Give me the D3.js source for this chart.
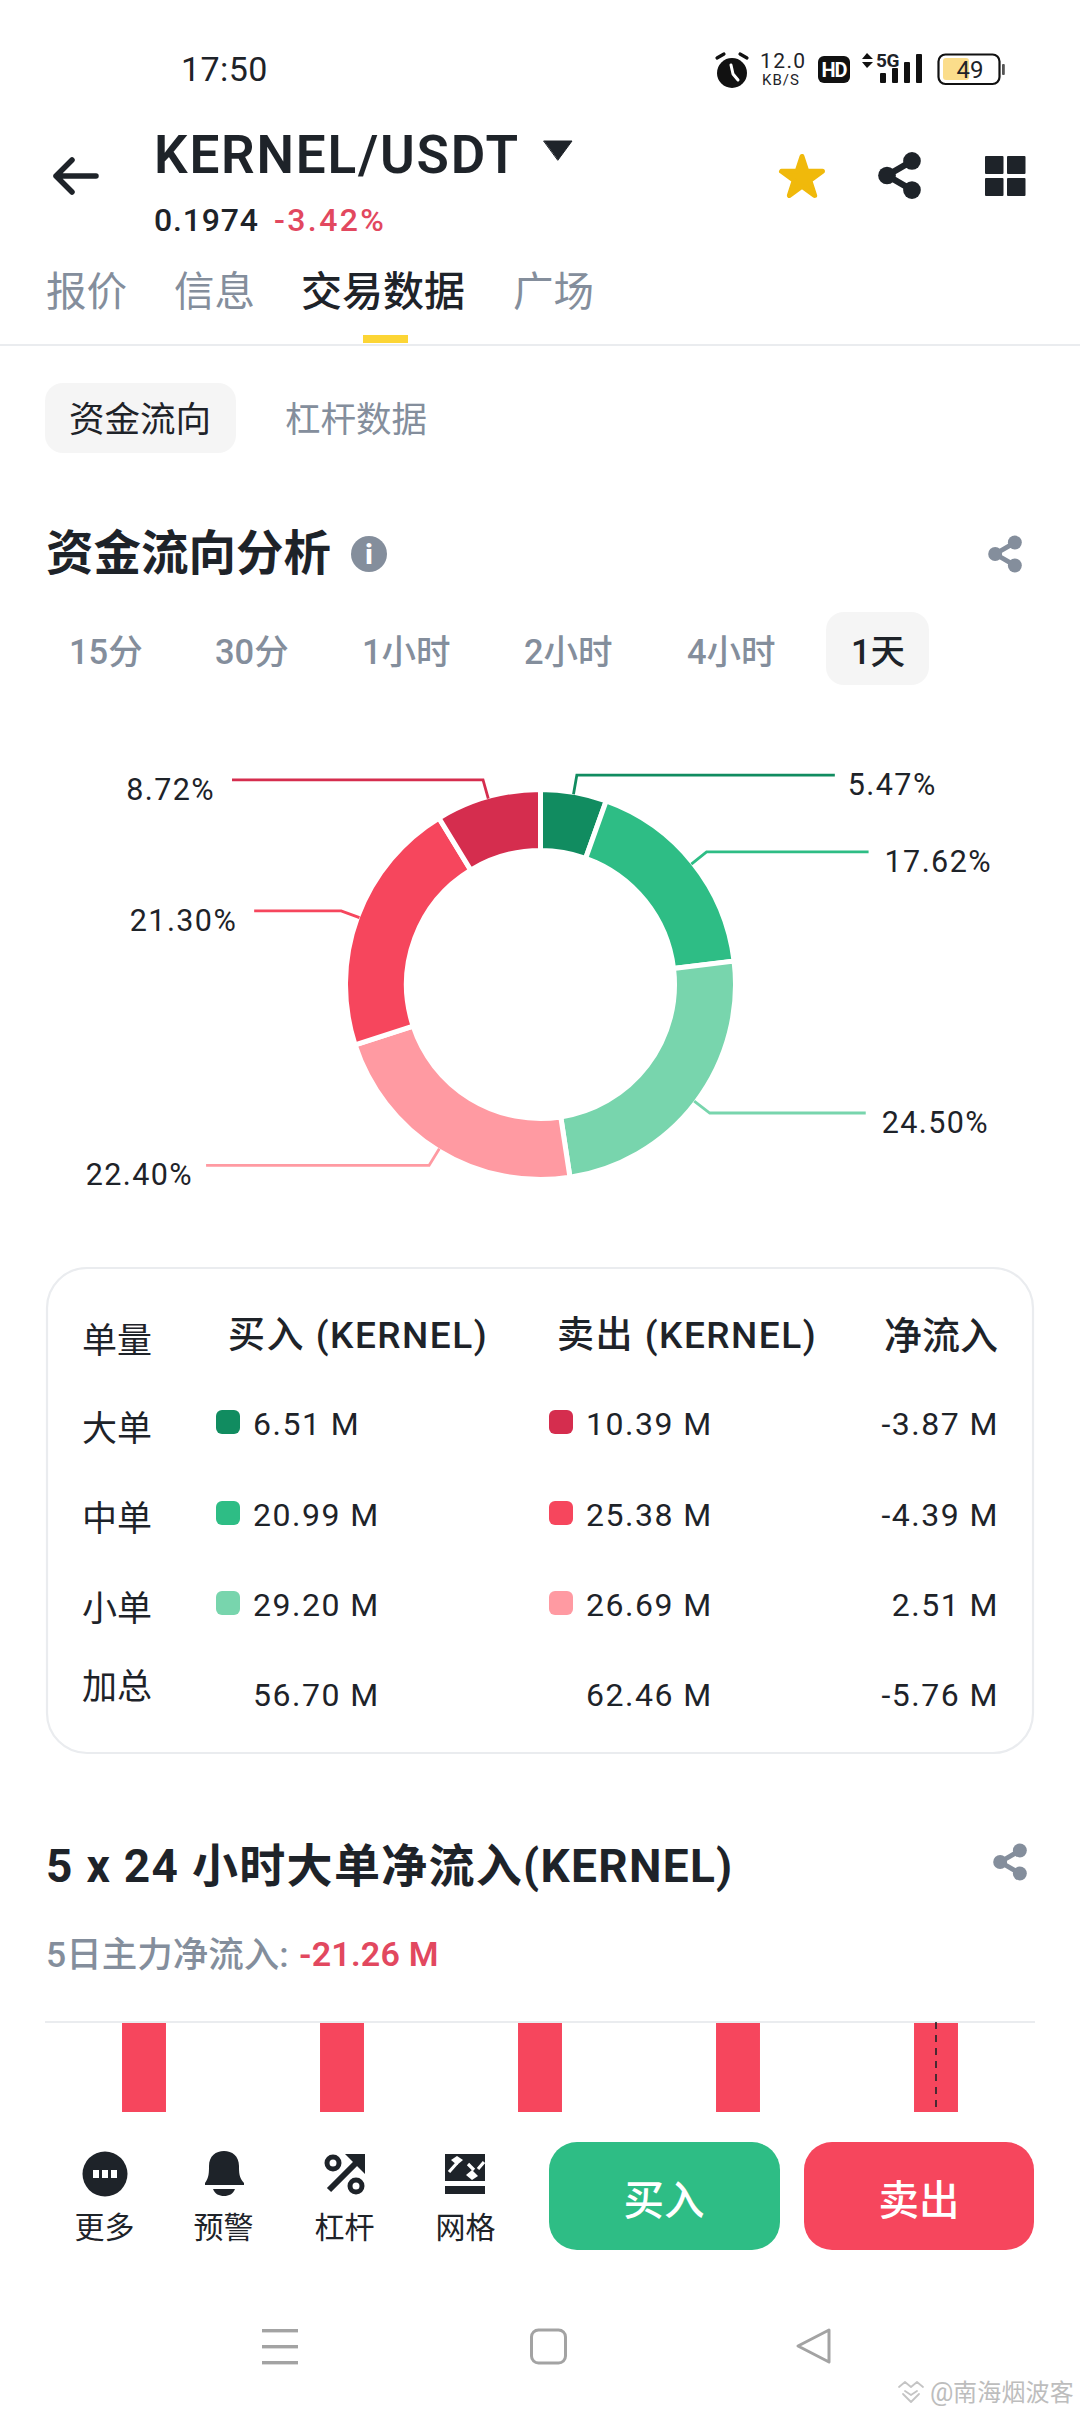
<!DOCTYPE html>
<html lang="zh-CN"><head><meta charset="utf-8"><title>KERNEL/USDT</title>
<script src="https://cdn.jsdelivr.net/npm/d3@7/dist/d3.min.js"></script>
<style>html,body{margin:0;padding:0;background:#fff}svg{display:block}text{font-family:Roboto,"Noto Sans CJK SC",sans-serif}</style>
</head><body><div id="c"></div>
<script>
// ---- data ----
const sliceNames = ["大单买入","中单买入","小单买入","小单卖出","中单卖出","大单卖出"];
const sliceShares = [5.47,17.62,24.50,22.40,21.30,8.72];
const rowNames = ["大单","中单","小单","加总"];
const buyValues = [6.51,20.99,29.20,56.70];
const sellValues = [10.39,25.38,26.69,62.46];
const netValues = [-3.87,-4.39,2.51,-5.76];
const dayNames = ["D1","D2","D3","D4","D5"];
const dayNetFlows = [-4.31,-4.62,-4.11,-4.35,-3.87];
const timeTabs = ["15分","30分","1小时","2小时","4小时","1天"];

// ---- palette and layout ----
const DARK="#1E2329",GRAY="#848E9C",RED="#F6465D",TXTRED="#E2485F",GREEN="#2EBD85",LINE="#EAECEF";
const sliceColors=["#118C60","#2EBD85","#78D5AD","#FF9AA2","#F6465D","#D52D4E"];
const W=1080,H=2412;
const svg=d3.select("#c").append("svg").attr("width",W).attr("height",H).attr("viewBox",`0 0 ${W} ${H}`);
function T(x,y,s,o={}){const z=o.size||32;return svg.append("text").attr("x",x).attr("y",y+z*.36).text(s)
  .attr("font-size",z).attr("font-weight",o.weight||400).attr("fill",o.fill||DARK)
  .attr("text-anchor",o.anchor||"start").attr("letter-spacing",o.ls||0).attr("opacity",o.op==null?1:o.op);}
function R(x,y,w,h,r,f,g){return (g||svg).append("rect").attr("x",x).attr("y",y).attr("width",w).attr("height",h).attr("rx",r).attr("fill",f);}
function P(d,f,s,sw,g){return (g||svg).append("path").attr("d",d).attr("fill",f||"none").attr("stroke",s||"none").attr("stroke-width",sw||0).attr("stroke-linejoin","round").attr("stroke-linecap","round");}
function share(cx,cy,k,c){const g=svg.append("g").attr("transform",`translate(${cx},${cy}) scale(${k})`);
  P("M12,-14 L-12,0 L12,14",null,c,6,g);[[12,-14],[-12,0],[12,14]].forEach(p=>g.append("circle").attr("cx",p[0]).attr("cy",p[1]).attr("r",8.5).attr("fill",c));}

// ---- status bar ----
T(181,69,"17:50",{size:34,ls:.4});
svg.append("circle").attr("cx",732).attr("cy",73).attr("r",15).attr("fill","#111");
P("M731,65 L733,74 L738,80",null,"#fff",3);
P("M717,58 L724,54 M747,58 L740,54",null,"#111",3.2);
T(760,60.5,"12.0",{size:21,ls:1.4});
T(762,80,"KB/S",{size:15,ls:1});
R(818,56,32,27,6,"#111");
T(834,69.5,"HD",{size:20,weight:700,fill:"#fff",anchor:"middle",ls:-1});
P("M862,59 L867,53 L873,59Z M862,62 L873,62 L867,68Z","#111");
T(876,60,"5G",{size:19,weight:700,ls:-.5});
const sigBars=[[880,73],[892,68],[904,62],[916,54]];
sigBars.forEach(b=>R(b[0],b[1],6,83-b[1],1,"#111"));
R(938.5,54.5,61,29.5,7,"#fff").attr("stroke","#111").attr("stroke-width",2.2);
R(943,58,26,22,3,"#FBDD8B");
R(1002,64,2.8,11,1,"#555");
T(970,69.5,"49",{size:24,anchor:"middle"});

// ---- header ----
P("M56,176 H96 M72,160 L56,176 L72,192",null,DARK,5.5);
T(154,154,"KERNEL/USDT",{size:53,weight:600,ls:1.8});
P("M544,141 H572 L558,160Z",DARK,DARK,1);
P(d3.symbol(d3.symbolStar,520)(),"#F0B90B","#F0B90B",5).attr("transform","translate(802,178)");
share(899.5,175.5,1.04,DARK);
[[985,156],[1007,156],[985,178],[1007,178]].forEach(p=>R(p[0],p[1],18.5,18,1,DARK));
T(154,219,"0.1974",{size:32,weight:500,ls:.8});
T(274,219,"-3.42%",{size:32,weight:500,fill:TXTRED,ls:2.4});

// tabs
T(46,291,"报价",{size:40.5,fill:GRAY});
T(174,291,"信息",{size:40.5,fill:GRAY});
T(301,291,"交易数据",{size:41,fill:DARK,weight:500});
T(513,291,"广场",{size:40.5,fill:GRAY});
R(363,335,45,8,0,"#FCD535");
R(0,344,W,2,0,LINE);

R(45,383,191,70,18,"#F5F5F5");
T(69,419,"资金流向",{size:35.5});
T(285,419,"杠杆数据",{size:35.5,fill:GRAY});

// section 1
T(46,553,"资金流向分析",{size:47.5,weight:700});
svg.append("circle").attr("cx",369).attr("cy",554).attr("r",18).attr("fill",GRAY);
T(369,554,"i",{size:27,weight:900,fill:"#fff",anchor:"middle"});
share(1005,554,.82,GRAY);

R(826,612,103,73,18,"#F5F5F5");
const tabXs=[69,215,362,524,687,851];
timeTabs.forEach((t,i)=>T(tabXs[i],652,t,{size:34.5,weight:500,fill:i==5?DARK:GRAY}));

// ---- donut ----
const cx=540.5,cy=984.5,rOuter=195,rInner=134,bendR=212.5;
const leaderRun=[258,162,156,223,87,251];
const labelGap=[13,16,16,13,17,17];
const pieData=d3.pie().sort(null).value(d=>d)(sliceShares);
const arc=d3.arc().innerRadius(rInner).outerRadius(rOuter);
const donut=svg.append("g").attr("transform",`translate(${cx},${cy})`);
donut.selectAll("path").data(pieData).join("path").attr("d",arc)
  .attr("fill",(d,i)=>sliceColors[i]).attr("stroke","#fff").attr("stroke-width",5);
pieData.forEach((d,i)=>{
  const a=(d.startAngle+d.endAngle)/2,s=Math.sin(a),c=-Math.cos(a),side=s>=0?1:-1;
  const bx=bendR*s,by=bendR*c,ex=bx+side*leaderRun[i];
  donut.append("path").attr("d",d3.line()([[(rOuter-2)*s,(rOuter-2)*c],[bx,by],[ex,by]]))
    .attr("fill","none").attr("stroke",sliceColors[i]).attr("stroke-width",2.8);
  T(cx+ex+side*labelGap[i],cy+by+9,sliceShares[i].toFixed(2)+"%",{size:30.5,ls:1.4,anchor:side>0?"start":"end"});
});

// ---- table ----
R(47,1268,986,485,40,"#fff").attr("stroke",LINE).attr("stroke-width",2.2);
T(82,1340,"单量",{size:35});
T(228,1335,"买入 (KERNEL)",{size:37,ls:1.5,weight:500});
T(557,1335,"卖出 (KERNEL)",{size:37,ls:1.5,weight:500});
T(998,1335,"净流入",{size:38,anchor:"end",weight:500});
const labelYs=[1428,1518,1608,1686],valueYs=[1423,1514,1604,1694];
const fm=v=>v.toFixed(2)+" M";
rowNames.forEach((n,i)=>{
  T(82,labelYs[i],n,{size:35});
  T(253,valueYs[i],fm(buyValues[i]),{size:32,ls:1.5});
  T(586,valueYs[i],fm(sellValues[i]),{size:32,ls:1.5});
  T(999,valueYs[i],fm(netValues[i]),{size:32,ls:1.5,anchor:"end"});
  if(i<3){R(216,valueYs[i]-13,24,24,6,sliceColors[i]);R(549,valueYs[i]-13,24,24,6,sliceColors[5-i]);}
});

// ---- section 2 ----
T(46,1865,"5 x 24 小时大单净流入(KERNEL)",{size:46,weight:700,ls:1.3});
share(1010,1862,.82,GRAY);
T(46,1954,"5日主力净流入:",{size:35.5,fill:GRAY,weight:500});
T(299,1954,"-21.26 M",{size:34,fill:TXTRED,weight:600,ls:.2});

const x=d3.scaleBand().domain(dayNames).range([45,1035]).paddingInner(.778).paddingOuter(.389);
const y=d3.scaleLinear().domain([0,-5]).range([2022,2172]);
svg.selectAll("rect.bar").data(dayNetFlows).join("rect").attr("class","bar")
  .attr("x",(d,i)=>x(dayNames[i])).attr("width",x.bandwidth())
  .attr("y",y(0)).attr("height",d=>y(d)-y(0)).attr("fill",RED);
R(45,2021,990,2,0,LINE);
const lastX=x(dayNames[4])+x.bandwidth()/2;
svg.append("line").attr("x1",lastX).attr("x2",lastX).attr("y1",2022).attr("y2",2112)
  .attr("stroke",DARK).attr("stroke-width",1.6).attr("stroke-dasharray","7 6");

// ---- bottom bar ----
R(0,2112,W,300,0,"#fff");
svg.append("circle").attr("cx",105).attr("cy",2174).attr("r",22.5).attr("fill",DARK);
[93,102,111].forEach(v=>R(v,2170,6,8,0,"#fff"));
P("M205,2183 C209,2178 209,2172 209,2166 C209,2156 216,2151 224,2151 C232,2151 239,2156 239,2166 C239,2172 239,2178 244,2183 V2185 H205Z",DARK);
P("M213,2189 H235 C233,2194 229,2196 224,2196 C219,2196 215,2194 213,2189Z",DARK);
// leverage icon
P("M329,2190 L358,2161",null,DARK,6).attr("stroke-linecap","butt");
P("M345,2154 H365 V2174Z",DARK);
svg.append("circle").attr("cx",333).attr("cy",2163).attr("r",6).attr("fill","#fff").attr("stroke",DARK).attr("stroke-width",5);
svg.append("circle").attr("cx",356).attr("cy",2186).attr("r",6).attr("fill","#fff").attr("stroke",DARK).attr("stroke-width",5);
// grid icon
R(445,2154,40,27,0,DARK);
P("M449,2172 L457,2163 M468,2164 L474,2170 M478,2169 L484,2162",null,"#fff",3.2).attr("stroke-linecap","butt");
P("M457,2156 L463,2160 L457,2165 L451,2160Z","#fff");
P("M472,2170 L478,2176 L472,2180 L466,2175Z","#fff");
R(445,2186,40,8,0,DARK);
[["更多",105],["预警",224],["杠杆",345],["网格",466]].forEach(d=>T(d[1]-.5,2227,d[0],{size:30,anchor:"middle"}));
R(549,2142,231,108,28,GREEN);
R(804,2142,230,108,28,RED);
T(664,2200,"买入",{size:40.5,weight:500,fill:"#fff",anchor:"middle"});
T(919,2200,"卖出",{size:40.5,weight:500,fill:"#fff",anchor:"middle"});

// ---- navigation bar ----
[2329,2345,2361].forEach(v=>R(262,v,36,3.4,0,"#A3A3A3"));
R(531.5,2330,34,33,7,"none").attr("stroke","#A3A3A3").attr("stroke-width",3);
P("M829,2330 L798,2346 L829,2362Z","none","#A3A3A3",3);

// ---- watermark ----
P("M899,2387 L905,2382 L911,2387 L917,2382 L923,2387 M905,2391 L911,2395 L917,2391 M903,2394 L911,2402 L919,2394","none","#C4C4C4",1.8);
T(930,2392,"@",{size:26,fill:"#BDBDBD"});
T(953,2392,"南海烟波客",{size:24,fill:"#BDBDBD",ls:.2});
</script></body></html>
